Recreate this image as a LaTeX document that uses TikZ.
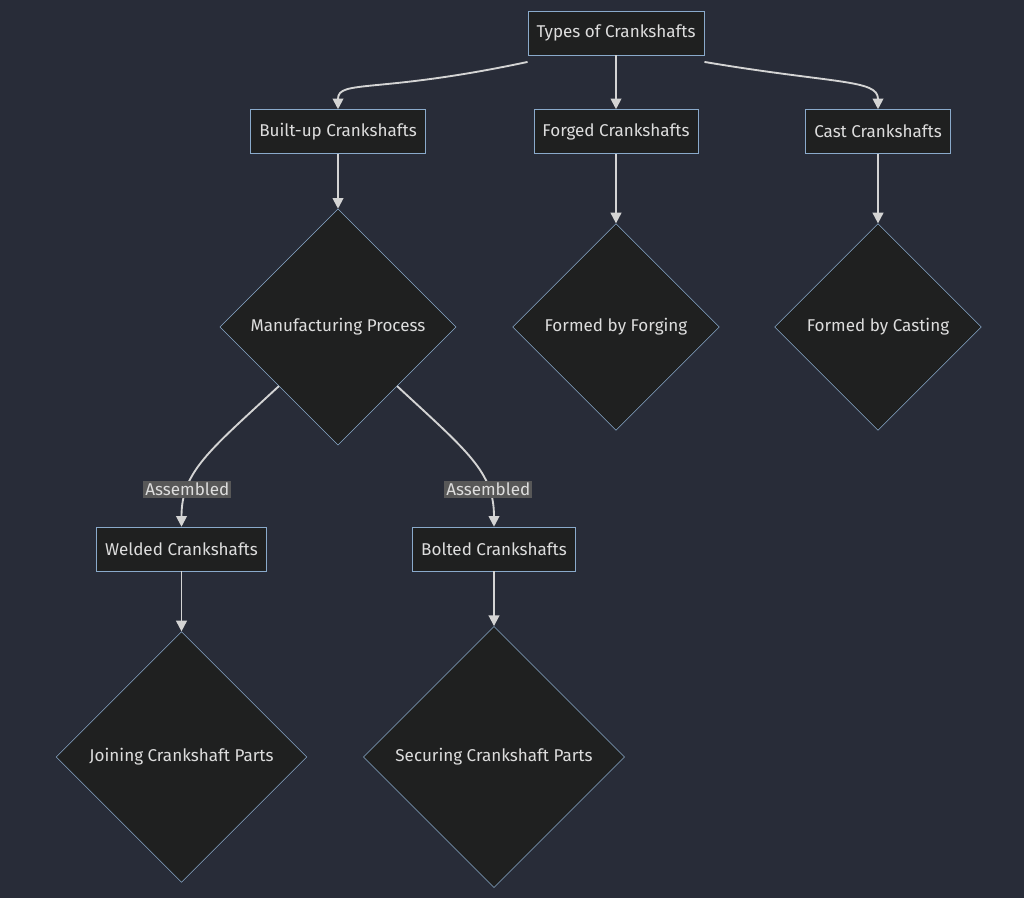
\documentclass[tikz,border=0pt]{standalone}
\usepackage{fontspec}
\setmainfont{Fira Sans}
\usetikzlibrary{shapes.geometric,arrows.meta}
\definecolor{bgcol}{HTML}{282C38}
\definecolor{nodefill}{HTML}{1F2020}
\definecolor{nodeline}{HTML}{8AAACB}
\definecolor{txtcol}{HTML}{DDDDDD}
\definecolor{linkcol}{HTML}{D4D4D4}
\definecolor{lblfill}{HTML}{585858}
\tikzset{
  box/.style={draw=nodeline,fill=nodefill,text=txtcol,minimum height=33pt,inner xsep=6.5pt,font=\fontsize{12.8}{14}\selectfont},
  decision/.style={diamond,aspect=1,draw=nodeline,fill=nodefill,text=txtcol,inner sep=0pt,font=\fontsize{12.8}{14}\selectfont},
  link/.style={draw=linkcol,line width=1.4pt,-{Triangle[length=8pt,width=8pt]}},
  edgelabel/.style={fill=lblfill,text=txtcol,inner sep=1.5pt,font=\fontsize{12.8}{14}\selectfont}
}
\begin{document}
\begin{tikzpicture}[x=0.75pt,y=-0.75pt]
      \fill[bgcol] (0,0) rectangle (1024,898);
      \useasboundingbox (0,0) rectangle (1024,898);
      % top level
      \node[box] (types) at (616,33) {Types of Crankshafts};
      \node[box] (builtup) at (338,131.5) {Built-up Crankshafts};
      \node[box] (forged) at (616,131.5) {Forged Crankshafts};
      \node[box] (cast) at (878,131.5) {Cast Crankshafts};
      % decisions
      \node[decision,minimum width=177pt,minimum height=177pt] (manuf) at (338,327) {Manufacturing Process};
      \node[decision,minimum width=155pt,minimum height=155pt] (forging) at (616,327) {Formed by Forging};
      \node[decision,minimum width=155pt,minimum height=155pt] (casting) at (878,327) {Formed by Casting};
      \node[box] (welded) at (181.5,549) {Welded Crankshafts};
      \node[box] (bolted) at (494,549) {Bolted Crankshafts};
      \node[decision,minimum width=188pt,minimum height=188pt] (joining) at (181.5,757) {Joining Crankshaft Parts};
      \node[decision,minimum width=196pt,minimum height=196pt] (securing) at (494,757) {Securing Crankshaft Parts};
      % links
      \draw[link] ([yshift=-5pt]types.south west) .. controls +(-150,32) and +(0,-30) .. (builtup.north);
      \draw[link] (types.south) -- (forged.north);
      \draw[link] ([yshift=-5pt]types.south east) .. controls +(130,22) and +(0,-30) .. (cast.north);
      \draw[link] (builtup.south) -- (manuf.north);
      \draw[link] (forged.south) -- (forging.north);
      \draw[link] (cast.south) -- (casting.north);
      \draw[link] (manuf.south west) .. controls +(-70,65) and +(0,-55) .. node[edgelabel,pos=0.74] {Assembled} (welded.north);
      \draw[link] (manuf.south east) .. controls +(70,65) and +(0,-55) .. node[edgelabel,pos=0.74] {Assembled} (bolted.north);
      \draw[link] (welded.south) -- (joining.north);
      \draw[link] (bolted.south) -- (securing.north);
\end{tikzpicture}
\end{document}
